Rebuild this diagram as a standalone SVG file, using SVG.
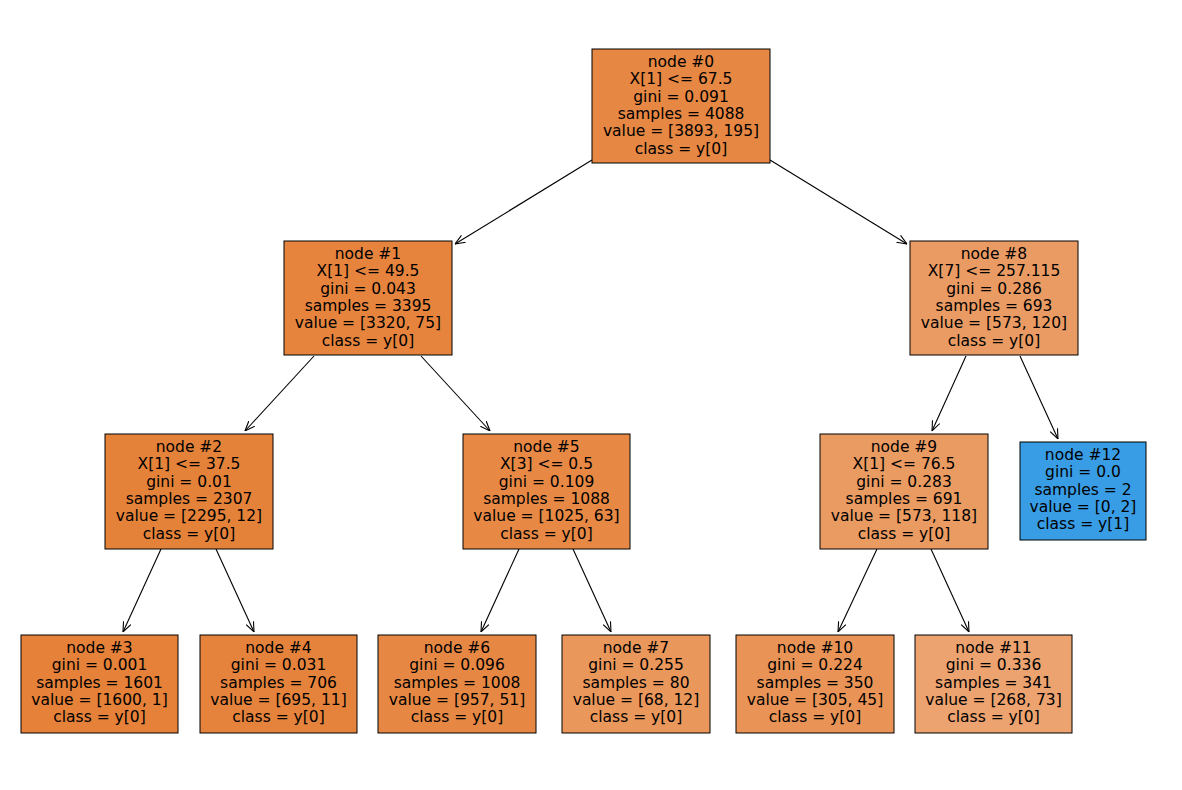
<svg xmlns="http://www.w3.org/2000/svg" width="1182" height="790" viewBox="0 0 1182 790">
<style>
rect{stroke:#000;stroke-width:1}
text{font-family:"DejaVu Sans",sans-serif;font-size:15.5px;text-anchor:middle;fill:#000}
.c line{stroke:#000;stroke-width:1.1;marker-end:url(#a)}
</style>
<defs><marker id="a" viewBox="0 0 10 10" refX="10" refY="5" markerWidth="10" markerHeight="10" orient="auto" markerUnits="userSpaceOnUse"><path d="M0,1 L10,5 L0,9" fill="none" stroke="#000" stroke-width="1.1"/></marker></defs>
<rect x="0" y="0" width="1182" height="790" fill="#fff" style="stroke:none"/>
<g class="c">
<line x1="592" y1="160" x2="455" y2="244"/>
<line x1="770" y1="160" x2="907" y2="244"/>
<line x1="314" y1="356" x2="245" y2="431"/>
<line x1="421" y1="356" x2="490" y2="431"/>
<line x1="966" y1="356" x2="932" y2="431"/>
<line x1="1020" y1="356" x2="1058" y2="439"/>
<line x1="161" y1="549" x2="123" y2="632"/>
<line x1="216" y1="549" x2="254" y2="632"/>
<line x1="519" y1="549" x2="481" y2="632"/>
<line x1="573" y1="549" x2="611" y2="632"/>
<line x1="877" y1="549" x2="838" y2="632"/>
<line x1="931" y1="549" x2="969" y2="632"/>
</g>
<g id="n0"><rect x="592" y="49" width="178" height="114" fill="rgb(230,135,67)"/><text x="681" y="67">node #0<tspan x="681" dy="17.3">X[1] &lt;= 67.5</tspan><tspan x="681" dy="17.3">gini = 0.091</tspan><tspan x="681" dy="17.3">samples = 4088</tspan><tspan x="681" dy="17.3">value = [3893, 195]</tspan><tspan x="681" dy="17.3">class = y[0]</tspan></text></g>
<g id="n1"><rect x="284" y="241" width="168" height="114" fill="rgb(230,132,62)"/><text x="368" y="259">node #1<tspan x="368" dy="17.3">X[1] &lt;= 49.5</tspan><tspan x="368" dy="17.3">gini = 0.043</tspan><tspan x="368" dy="17.3">samples = 3395</tspan><tspan x="368" dy="17.3">value = [3320, 75]</tspan><tspan x="368" dy="17.3">class = y[0]</tspan></text></g>
<g id="n8"><rect x="910" y="241" width="168" height="114" fill="rgb(234,155,99)"/><text x="994" y="259">node #8<tspan x="994" dy="17.3">X[7] &lt;= 257.115</tspan><tspan x="994" dy="17.3">gini = 0.286</tspan><tspan x="994" dy="17.3">samples = 693</tspan><tspan x="994" dy="17.3">value = [573, 120]</tspan><tspan x="994" dy="17.3">class = y[0]</tspan></text></g>
<g id="n2"><rect x="105" y="434" width="168" height="115" fill="rgb(229,130,58)"/><text x="189" y="452">node #2<tspan x="189" dy="17.3">X[1] &lt;= 37.5</tspan><tspan x="189" dy="17.3">gini = 0.01</tspan><tspan x="189" dy="17.3">samples = 2307</tspan><tspan x="189" dy="17.3">value = [2295, 12]</tspan><tspan x="189" dy="17.3">class = y[0]</tspan></text></g>
<g id="n5"><rect x="463" y="434" width="167" height="115" fill="rgb(231,137,69)"/><text x="546.5" y="452">node #5<tspan x="546.5" dy="17.3">X[3] &lt;= 0.5</tspan><tspan x="546.5" dy="17.3">gini = 0.109</tspan><tspan x="546.5" dy="17.3">samples = 1088</tspan><tspan x="546.5" dy="17.3">value = [1025, 63]</tspan><tspan x="546.5" dy="17.3">class = y[0]</tspan></text></g>
<g id="n9"><rect x="820" y="434" width="168" height="115" fill="rgb(234,155,98)"/><text x="904" y="452">node #9<tspan x="904" dy="17.3">X[1] &lt;= 76.5</tspan><tspan x="904" dy="17.3">gini = 0.283</tspan><tspan x="904" dy="17.3">samples = 691</tspan><tspan x="904" dy="17.3">value = [573, 118]</tspan><tspan x="904" dy="17.3">class = y[0]</tspan></text></g>
<g id="n12"><rect x="1020" y="442" width="126" height="98" fill="rgb(57,157,229)"/><text x="1083" y="460">node #12<tspan x="1083" dy="17.3">gini = 0.0</tspan><tspan x="1083" dy="17.3">samples = 2</tspan><tspan x="1083" dy="17.3">value = [0, 2]</tspan><tspan x="1083" dy="17.3">class = y[1]</tspan></text></g>
<g id="n3"><rect x="21" y="635" width="157" height="98" fill="rgb(229,129,57)"/><text x="99.5" y="653">node #3<tspan x="99.5" dy="17.3">gini = 0.001</tspan><tspan x="99.5" dy="17.3">samples = 1601</tspan><tspan x="99.5" dy="17.3">value = [1600, 1]</tspan><tspan x="99.5" dy="17.3">class = y[0]</tspan></text></g>
<g id="n4"><rect x="200" y="635" width="157" height="98" fill="rgb(229,131,60)"/><text x="278.5" y="653">node #4<tspan x="278.5" dy="17.3">gini = 0.031</tspan><tspan x="278.5" dy="17.3">samples = 706</tspan><tspan x="278.5" dy="17.3">value = [695, 11]</tspan><tspan x="278.5" dy="17.3">class = y[0]</tspan></text></g>
<g id="n6"><rect x="378" y="635" width="158" height="98" fill="rgb(230,136,68)"/><text x="457" y="653">node #6<tspan x="457" dy="17.3">gini = 0.096</tspan><tspan x="457" dy="17.3">samples = 1008</tspan><tspan x="457" dy="17.3">value = [957, 51]</tspan><tspan x="457" dy="17.3">class = y[0]</tspan></text></g>
<g id="n7"><rect x="562" y="635" width="148" height="98" fill="rgb(234,151,92)"/><text x="636" y="653">node #7<tspan x="636" dy="17.3">gini = 0.255</tspan><tspan x="636" dy="17.3">samples = 80</tspan><tspan x="636" dy="17.3">value = [68, 12]</tspan><tspan x="636" dy="17.3">class = y[0]</tspan></text></g>
<g id="n10"><rect x="736" y="635" width="158" height="98" fill="rgb(233,148,86)"/><text x="815" y="653">node #10<tspan x="815" dy="17.3">gini = 0.224</tspan><tspan x="815" dy="17.3">samples = 350</tspan><tspan x="815" dy="17.3">value = [305, 45]</tspan><tspan x="815" dy="17.3">class = y[0]</tspan></text></g>
<g id="n11"><rect x="915" y="635" width="157" height="98" fill="rgb(236,163,111)"/><text x="993.5" y="653">node #11<tspan x="993.5" dy="17.3">gini = 0.336</tspan><tspan x="993.5" dy="17.3">samples = 341</tspan><tspan x="993.5" dy="17.3">value = [268, 73]</tspan><tspan x="993.5" dy="17.3">class = y[0]</tspan></text></g>
</svg>
